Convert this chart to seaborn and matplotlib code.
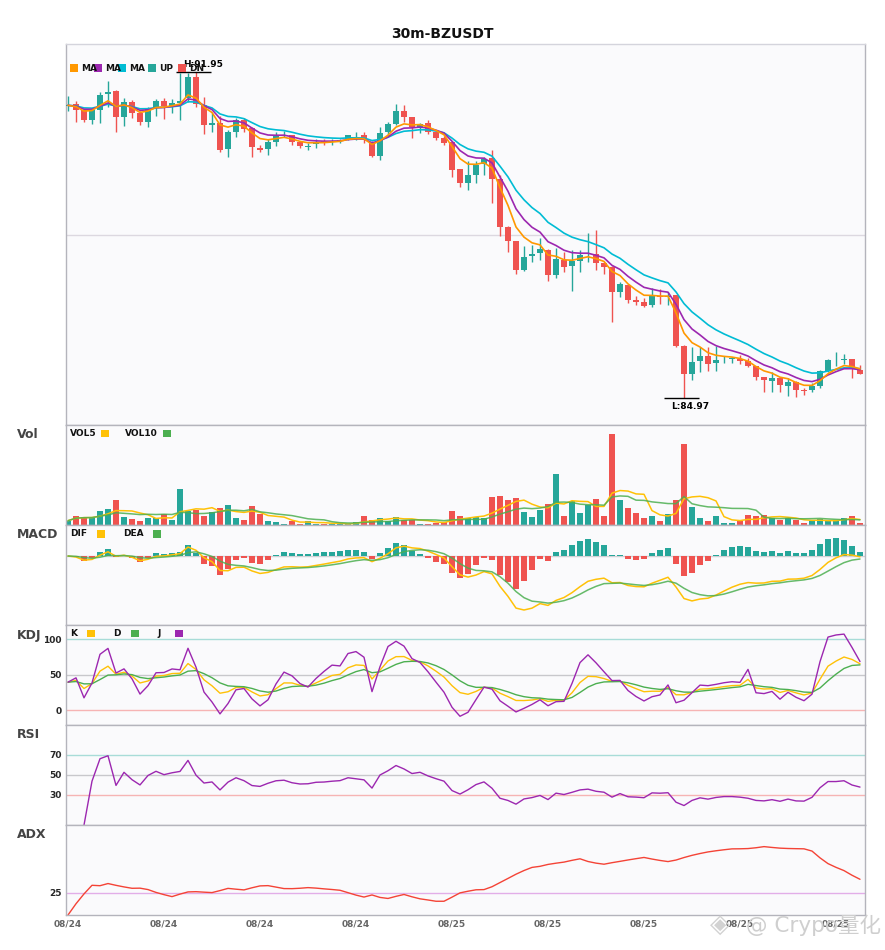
import numpy as np
import pandas as pd
import seaborn as sns
import matplotlib
matplotlib.use("Agg")
import matplotlib.pyplot as plt
from matplotlib.patches import Rectangle

# 30m candles, BZUSDT
opens = [91.22, 91.25, 91.12, 90.92, 91.14, 91.47, 91.54, 90.98, 91.30, 91.07,
         90.87, 91.19, 91.33, 91.21, 91.28, 91.38, 91.84, 91.24, 90.80, 90.85,
         90.30, 90.67, 90.92, 90.74, 90.32, 90.29, 90.44, 90.59, 90.59, 90.44,
         90.35, 90.41, 90.46, 90.45, 90.47, 90.50, 90.54, 90.60, 90.45, 90.15,
         90.65, 90.83, 91.11, 90.97, 90.75, 90.85, 90.67, 90.54, 90.45, 89.86,
         89.57, 89.74, 89.97, 90.10, 89.65, 88.64, 88.33, 87.71, 88.00, 88.08,
         88.14, 87.60, 87.93, 87.80, 87.91, 88.05, 88.05, 87.87, 87.78, 87.25,
         87.40, 87.06, 87.02, 86.96, 87.16, 87.13, 87.17, 86.09, 85.50, 85.76,
         85.88, 85.72, 85.80, 85.81, 85.82, 85.77, 85.66, 85.42, 85.35, 85.41,
         85.24, 85.32, 85.15, 85.15, 85.24, 85.55, 85.78, 85.78, 85.80, 85.57]
highs = [91.43, 91.32, 91.15, 91.17, 91.52, 91.74, 91.55, 91.39, 91.35, 91.11,
         91.20, 91.36, 91.39, 91.36, 91.92, 91.92, 91.95, 91.40, 91.07, 91.00,
         90.70, 90.96, 90.96, 90.76, 90.38, 90.50, 90.66, 90.68, 90.60, 90.45,
         90.43, 90.50, 90.52, 90.50, 90.51, 90.60, 90.66, 90.65, 90.47, 90.76,
         90.87, 91.26, 91.24, 90.99, 90.86, 90.92, 90.68, 90.57, 90.46, 89.86,
         90.05, 90.04, 90.13, 90.28, 89.74, 88.65, 88.34, 88.23, 88.24, 88.39,
         88.15, 88.19, 88.10, 88.14, 88.14, 88.50, 88.57, 87.88, 87.79, 87.45,
         87.41, 87.16, 87.11, 87.33, 87.30, 87.25, 87.18, 86.10, 86.06, 86.07,
         86.06, 86.08, 85.88, 85.86, 85.90, 85.83, 85.67, 85.43, 85.54, 85.42,
         85.40, 85.33, 85.20, 85.29, 85.57, 85.80, 85.95, 85.91, 85.81, 85.68]
lows = [91.10, 90.88, 90.88, 90.83, 90.85, 91.20, 90.67, 90.79, 90.95, 90.82,
        90.77, 91.00, 90.93, 91.07, 90.92, 91.31, 91.20, 90.62, 90.65, 90.23,
        90.12, 90.55, 90.67, 90.12, 90.23, 90.16, 90.36, 90.55, 90.38, 90.31,
        90.27, 90.31, 90.39, 90.39, 90.43, 90.48, 90.48, 90.43, 90.12, 90.06,
        90.58, 90.81, 90.88, 90.54, 90.63, 90.62, 90.49, 90.38, 89.69, 89.48,
        89.42, 89.58, 89.74, 89.14, 88.43, 88.10, 87.63, 87.70, 87.89, 87.93,
        87.47, 87.53, 87.67, 87.27, 87.67, 87.89, 87.71, 87.62, 86.61, 87.14,
        87.01, 86.97, 86.92, 86.92, 86.99, 86.97, 86.06, 84.97, 85.37, 85.54,
        85.56, 85.56, 85.72, 85.73, 85.70, 85.64, 85.37, 85.11, 85.11, 85.11,
        85.03, 84.99, 85.04, 85.11, 85.18, 85.54, 85.66, 85.70, 85.40, 85.48]
closes = [91.23, 91.14, 90.92, 91.14, 91.45, 91.52, 90.97, 91.30, 91.07, 90.87,
          91.17, 91.33, 91.21, 91.28, 91.33, 91.84, 91.25, 90.80, 90.85, 90.28,
          90.67, 90.92, 90.72, 90.35, 90.28, 90.44, 90.57, 90.60, 90.44, 90.36,
          90.37, 90.43, 90.44, 90.47, 90.49, 90.59, 90.55, 90.51, 90.15, 90.63,
          90.83, 91.11, 90.97, 90.77, 90.83, 90.67, 90.54, 90.42, 89.85, 89.57,
          89.74, 89.96, 90.08, 89.65, 88.64, 88.33, 87.71, 87.98, 88.05, 88.16,
          87.60, 87.95, 87.78, 87.90, 88.03, 88.07, 87.87, 87.78, 87.25, 87.42,
          87.06, 87.02, 86.95, 87.16, 87.13, 87.15, 86.08, 85.50, 85.75, 85.88,
          85.70, 85.78, 85.82, 85.82, 85.76, 85.65, 85.42, 85.37, 85.41, 85.25,
          85.32, 85.15, 85.13, 85.24, 85.55, 85.79, 85.79, 85.82, 85.61, 85.50]
volumes = [4.3, 9.3, 8.3, 7.7, 14.3, 16.0, 25.3, 7.7, 6.3, 4.3,
           7.3, 7.0, 11.0, 5.3, 35.3, 13.7, 15.0, 9.3, 12.7, 17.0,
           20.3, 7.3, 5.3, 19.3, 11.0, 4.3, 3.3, 1.3, 4.3, 1.3,
           4.3, 0.7, 1.3, 1.0, 1.3, 1.0, 3.3, 9.3, 5.3, 7.3,
           4.3, 8.3, 5.3, 5.3, 1.3, 1.3, 2.0, 2.7, 13.7, 9.3,
           6.7, 7.7, 7.0, 28.3, 29.3, 25.3, 27.3, 13.3, 8.3, 15.3,
           21.3, 50.3, 9.3, 24.3, 12.3, 20.0, 26.3, 9.3, 90.3, 25.3,
           17.3, 12.3, 7.3, 9.3, 4.3, 11.3, 25.3, 80.3, 18.3, 7.3,
           4.3, 9.3, 2.3, 2.3, 3.7, 10.3, 9.3, 10.3, 6.7, 5.3,
           7.0, 5.3, 1.7, 3.7, 6.0, 5.0, 5.3, 6.7, 8.7, 1.7]
date_labels = ["08/24", "08/24", "08/24", "08/24", "08/25", "08/25", "08/25", "08/25", "08/25"]

UP, DN = "#26a69a", "#ef5350"
C_MA1, C_MA2, C_MA3 = "#ff9800", "#9c27b0", "#00bcd4"
AMBER, GREEN, PURPLE, RED = "#ffc107", "#4caf50", "#9c27b0", "#f44336"
BG = "#fafafc"
SPINE = "#b4b4bc"

df = pd.DataFrame({"open": opens, "high": highs, "low": lows,
                   "close": closes, "volume": volumes})
df["idx"] = np.arange(len(df))
up = df["close"] >= df["open"]
colors = np.where(up, UP, DN)

# indicators
ema = lambda s, n: s.ewm(span=n, adjust=False).mean()
df["ma1"] = ema(df["close"], 5)
df["ma2"] = ema(df["close"], 8)
df["ma3"] = ema(df["close"], 13)
df["vol5"] = df["volume"].rolling(5, min_periods=1).mean()
df["vol10"] = df["volume"].rolling(10, min_periods=1).mean()
df["dif"] = ema(df["close"], 6) - ema(df["close"], 13)
df["dea"] = ema(df["dif"], 5)
df["hist"] = 2 * (df["dif"] - df["dea"])
llv = df["low"].rolling(9, min_periods=1).min()
hhv = df["high"].rolling(9, min_periods=1).max()
rsv = (df["close"] - llv) / (hhv - llv) * 100
df["k"] = rsv.ewm(com=2, adjust=False).mean()
df["d"] = df["k"].ewm(com=2, adjust=False).mean()
df["j"] = 3 * df["k"] - 2 * df["d"]
chg = df["close"].diff()
gain = chg.clip(lower=0).ewm(alpha=1/14, adjust=True, min_periods=2).mean()
loss = (-chg.clip(upper=0)).ewm(alpha=1/14, adjust=True, min_periods=2).mean()
df["rsi"] = 100 * gain / (gain + loss)
prev_c = df["close"].shift()
tr = pd.concat([df["high"] - df["low"], (df["high"] - prev_c).abs(),
                (df["low"] - prev_c).abs()], axis=1).max(axis=1)
upm = df["high"].diff()
dnm = -df["low"].diff()
pdm = pd.Series(np.where((upm > dnm) & (upm > 0), upm, 0.0))
mdm = pd.Series(np.where((dnm > upm) & (dnm > 0), dnm, 0.0))
a_dx = 1 / 8
atr = tr.ewm(alpha=a_dx, adjust=True).mean()
pdi = 100 * pdm.ewm(alpha=a_dx, adjust=True).mean() / atr
mdi = 100 * mdm.ewm(alpha=a_dx, adjust=True).mean() / atr
dx = (100 * (pdi - mdi).abs() / (pdi + mdi)).fillna(0)
df["adx"] = dx.ewm(alpha=a_dx, adjust=False).mean()

sns.set_theme(style="white")
plt.rcParams["font.family"] = ["DejaVu Sans", "Noto Sans CJK SC"]

W, H = 885, 950
fig = plt.figure(figsize=(W / 100, H / 100), dpi=100)


def rect(top, bottom):
    return [66 / W, 1 - bottom / H, 799 / W, (bottom - top) / H]


def ftext(x, y, s, **kw):
    fig.text(x / W, 1 - y / H, s, **kw)


def fsquare(x, y, c, size=7.5):
    fig.add_artist(Rectangle((x / W, 1 - (y + size) / H), size / W, size / H,
                             transform=fig.transFigure, color=c, lw=0))


ax = fig.add_axes(rect(44, 425))
ax_vol = fig.add_axes(rect(425, 525), sharex=ax)
ax_macd = fig.add_axes(rect(525, 625), sharex=ax)
ax_kdj = fig.add_axes(rect(625, 725), sharex=ax)
ax_rsi = fig.add_axes(rect(725, 825), sharex=ax)
ax_adx = fig.add_axes(rect(825, 915), sharex=ax)
panels = [ax, ax_vol, ax_macd, ax_kdj, ax_rsi, ax_adx]

for a in panels:
    a.set_facecolor(BG)
    for s in a.spines.values():
        s.set_color(SPINE)
        s.set_linewidth(1)
    a.tick_params(axis="both", length=0)
    a.tick_params(axis="x", labelbottom=False)
    a.set_yticks([])
ax.spines["top"].set_color("#d4d4dc")

# price candles
body_lo = np.minimum(df["open"], df["close"])
body_h = np.maximum((df["close"] - df["open"]).abs(), 0.015)
ax.vlines(df["idx"], df["low"], df["high"], color=colors, lw=1, zorder=2)
ax.bar(df["idx"], body_h, bottom=body_lo, width=0.66, color=colors, lw=0, zorder=3)
for col, c in [("ma3", C_MA3), ("ma2", C_MA2), ("ma1", C_MA1)]:
    sns.lineplot(data=df, x="idx", y=col, ax=ax, color=c, lw=1.2, legend=False, zorder=4)
ax.set_ylim(84.40, 92.54)
ax.set_yticks([88.47])
ax.set_yticklabels([])
ax.grid(axis="y", color="#dcd8e0", lw=1)

hi_i, lo_i = int(df["high"].idxmax()), int(df["low"].idxmin())
hi_v, lo_v = df["high"].max(), df["low"].min()
ax.hlines(hi_v, hi_i - 2.5, hi_i + 1.9, color="black", lw=1, zorder=5)
ax.hlines(lo_v, lo_i - 2.5, lo_i + 1.9, color="black", lw=1, zorder=5)
ax.annotate(f"H:{hi_v:.2f}", (hi_i + 0.9, hi_v), xytext=(0, 5.2), textcoords="offset points",
            ha="center", va="center", fontsize=6.5, weight="bold", color="black", zorder=6)
ax.annotate(f"L:{lo_v:.2f}", (lo_i + 0.8, lo_v), xytext=(0, -5.8), textcoords="offset points",
            ha="center", va="center", fontsize=6.5, weight="bold", color="black", zorder=6)

# volume
ax_vol.bar(df["idx"], df["volume"], width=0.75, color=colors, lw=0)
sns.lineplot(data=df, x="idx", y="vol5", ax=ax_vol, color=AMBER, lw=1.1, legend=False)
sns.lineplot(data=df, x="idx", y="vol10", ax=ax_vol, color=GREEN, lw=1.1, alpha=0.85, legend=False)
ax_vol.set_ylim(0, df["volume"].max() * 1.1)

# macd
ax_macd.axhline(0, color="#d0d0d4", lw=1, zorder=1)
ax_macd.bar(df["idx"], df["hist"], width=0.75, color=np.where(df["hist"] >= 0, UP, DN), lw=0, zorder=2)
sns.lineplot(data=df, x="idx", y="dif", ax=ax_macd, color=AMBER, lw=1.1, legend=False, zorder=3)
sns.lineplot(data=df, x="idx", y="dea", ax=ax_macd, color=GREEN, lw=1.1, alpha=0.85, legend=False, zorder=3)
rng = -df["dif"].min() / 0.54
ax_macd.set_ylim(-0.69 * rng, 0.31 * rng)

# kdj
for lvl, c in [(100, "#a8dcd8"), (50, "#c8c8cc"), (0, "#f6b4b4")]:
    ax_kdj.axhline(lvl, color=c, lw=1, zorder=1)
sns.lineplot(data=df, x="idx", y="k", ax=ax_kdj, color=AMBER, lw=1, legend=False)
sns.lineplot(data=df, x="idx", y="d", ax=ax_kdj, color=GREEN, lw=1, legend=False)
sns.lineplot(data=df, x="idx", y="j", ax=ax_kdj, color=PURPLE, lw=1, legend=False)
ax_kdj.set_ylim(-21, 120)
ax_kdj.set_yticks([0, 50, 100])

# rsi
for lvl, c in [(70, "#a8dcd8"), (50, "#c8c8cc"), (30, "#f6b4b4")]:
    ax_rsi.axhline(lvl, color=c, lw=1, zorder=1)
sns.lineplot(data=df, x="idx", y="rsi", ax=ax_rsi, color=PURPLE, lw=1, legend=False)
ax_rsi.set_ylim(0, 100)
ax_rsi.set_yticks([30, 50, 70])

# adx
ax_adx.axhline(25, color="#e2aee8", lw=1, zorder=1)
sns.lineplot(data=df, x="idx", y="adx", ax=ax_adx, color=RED, lw=1, legend=False)
ax_adx.set_ylim(0, 100)
ax_adx.set_yticks([25])

for a in panels:
    a.set_xlabel("")
    a.set_ylabel("")
for a in [ax_kdj, ax_rsi, ax_adx]:
    a.tick_params(axis="y", labelsize=6.5, pad=3)
    for t in a.get_yticklabels():
        t.set_fontweight("bold")

ax_adx.set_xticks(np.arange(0, len(df), 12))
ax_adx.tick_params(axis="x", labelbottom=True, labelsize=6.5, labelcolor="#666666", pad=3)
ax_adx.set_xticklabels(date_labels, fontweight="bold")
ax.set_xlim(-0.25, 99.625)

# titles and legends
ftext(442, 34, "30m-BZUSDT", ha="center", va="center", fontsize=10, weight="bold", color="#111111")
for name, y in [("Vol", 435), ("MACD", 535), ("KDJ", 635), ("RSI", 735), ("ADX", 835)]:
    ftext(17, y, name, ha="left", va="center", fontsize=9, weight="bold", color="#444444")

leg_kw = dict(ha="left", va="center", fontsize=6.5, weight="bold", color="#111111")
for x, c, lab in [(70, C_MA1, "MA"), (94, C_MA2, "MA"), (118, C_MA3, "MA"), (148, UP, "UP"), (178, DN, "DN")]:
    fsquare(x, 64.5, c)
    ftext(x + 11, 68.5, lab, **leg_kw)
for lab, x, sx, c in [("VOL5", 70, 101, AMBER), ("VOL10", 125, 163, GREEN)]:
    ftext(x, 433.5, lab, **leg_kw)
    fsquare(sx, 429.5, c)
for lab, x, sx, c in [("DIF", 70, 97, AMBER), ("DEA", 123, 153, GREEN)]:
    ftext(x, 534, lab, **leg_kw)
    fsquare(sx, 530, c)
for lab, x, sx, c in [("K", 70, 87, AMBER), ("D", 113, 131, GREEN), ("J", 157, 175, PURPLE)]:
    ftext(x, 633.5, lab, **leg_kw)
    fsquare(sx, 629.5, c)

# watermark
ftext(720, 925, "◈", ha="center", va="center", fontsize=19, color="#d2d2d2")
ftext(881, 925, "@ Crypo量化", ha="right", va="center", fontsize=15.5, color="#cfcfcf")

fig.savefig("out.png", dpi=100, facecolor="white")
